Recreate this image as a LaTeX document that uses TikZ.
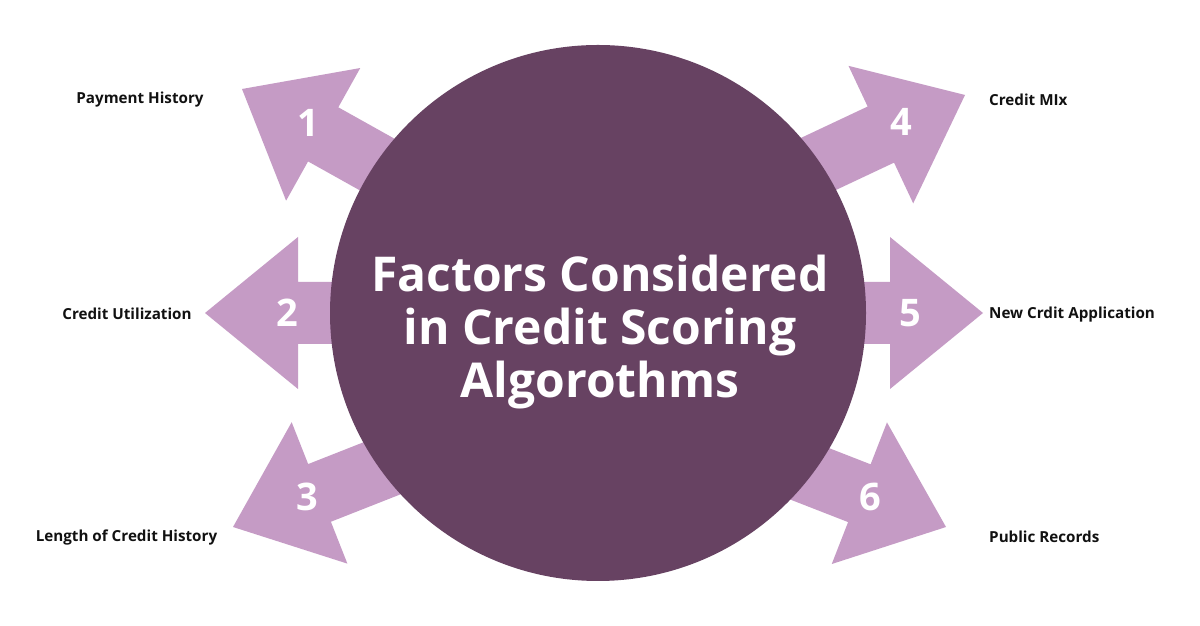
\documentclass[tikz,border=0pt]{standalone}
\usepackage{fontspec}
\setmainfont{Open Sans}
\definecolor{circlecol}{HTML}{674262}
\definecolor{arrowcol}{HTML}{C59BC5}
\definecolor{labelcol}{HTML}{111111}
\tikzset{
  bigarrow/.style={fill=arrowcol, draw=none},
  numtext/.style={text=white, font=\bfseries\fontsize{38}{40}\selectfont, inner sep=0pt},
  labeltext/.style={text=labelcol, font=\bfseries\fontsize{15.2}{18}\selectfont, inner sep=0pt},
  titletext/.style={text=white, font=\bfseries\fontsize{48}{53}\selectfont, align=center, inner sep=0pt},
}
\newcommand{\arrowshape}{(0,0) -- (-93,76) -- (-93,31) -- (-230,31) -- (-230,-31) -- (-93,-31) -- (-93,-76) -- cycle}
\begin{document}
\begin{tikzpicture}[x=1pt,y=1pt]
\useasboundingbox[fill=white] (0,0) rectangle (1200,626);
% arrows
\begin{scope}[shift={(242,537)},rotate=150.8]\fill[bigarrow] \arrowshape;\end{scope}
\begin{scope}[shift={(205,313)},rotate=180]\fill[bigarrow] \arrowshape;\end{scope}
\begin{scope}[shift={(233,99)},rotate=201.5]\fill[bigarrow] \arrowshape;\end{scope}
\begin{scope}[shift={(965,531)},rotate=25.2]\fill[bigarrow] \arrowshape;\end{scope}
\begin{scope}[shift={(983,313)},rotate=0]\fill[bigarrow] \arrowshape;\end{scope}
\begin{scope}[shift={(946,99)},rotate=-21.3]\fill[bigarrow] \arrowshape;\end{scope}
% circle
\node[circle, fill=circlecol, minimum size=536pt, inner sep=0pt] (hub) at (598,313) {};
\node[titletext] (title) at (600,294) {Factors Considered\\in Credit Scoring\\Algorothms};
% numbers
\node[numtext] (n1) at (308,503) {1};
\node[numtext] (n2) at (287,313) {2};
\node[numtext] (n3) at (307,129) {3};
\node[numtext] (n4) at (901,504) {4};
\node[numtext] (n5) at (910,313) {5};
\node[numtext] (n6) at (870,129) {6};
% labels
\node[labeltext] (l1) at (140,526) {Payment History};
\node[labeltext] (l2) at (127,312) {Credit Utilization};
\node[labeltext] (l3) at (126.5,88) {Length of Credit History};
\node[labeltext, anchor=west] (l4) at (989,526) {Credit MIx};
\node[labeltext, anchor=west] (l5) at (989,311) {New Crdit Application};
\node[labeltext, anchor=west] (l6) at (989,89) {Public Records};
\end{tikzpicture}
\end{document}
